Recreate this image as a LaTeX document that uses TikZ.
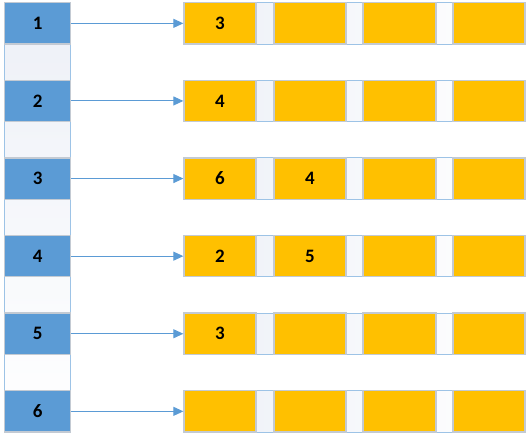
\documentclass[tikz,border=0pt]{standalone}
\usepackage{fontspec}
\setmainfont{Carlito}
\usetikzlibrary{arrows.meta}
\definecolor{cblue}{HTML}{5B9BD5}
\definecolor{cyel}{HTML}{FFC000}
\definecolor{cedge}{HTML}{C3CAD3}
\definecolor{clb}{HTML}{9DC3E6}
\definecolor{cbg}{HTML}{EDF0F7}
\tikzset{
  keybox/.style={draw=cedge, line width=1.3pt, fill=cblue, minimum width=66pt, minimum height=41.3pt, inner sep=0pt, font=\bfseries\fontsize{19}{23}\selectfont, text=black},
  cellbox/.style={draw=cedge, line width=1.3pt, fill=cyel, minimum width=72pt, minimum height=41.3pt, inner sep=0pt, font=\bfseries\fontsize{19}{23}\selectfont, text=black},
  arr/.style={draw=cblue, line width=1pt, -{Triangle[length=10pt,width=9pt]}}
}
\begin{document}
\begin{tikzpicture}[x=1pt,y=-1pt]
\useasboundingbox (0,0) rectangle (532,442);
% column background
\shade[top color=cbg, bottom color=white] (4.7,3) rectangle (70.7,432);
\draw[clb, line width=1pt] (4.7,3) rectangle (70.7,432);
\foreach \i/\t in {1/3,2/4,3/6,4/2,5/3,6/{}} {
  \pgfmathsetmacro{\yc}{2.7+(\i-1)*77.6+20.65}
  \pgfmathsetmacro{\ya}{\yc-20.65}
  \pgfmathsetmacro{\yb}{\yc+20.65}
  \shade[left color=cbg, right color=white] (184,\ya) rectangle (525,\yb);
  \draw[clb, line width=1pt] (184,\ya) -- (525,\ya) (184,\yb) -- (525,\yb);
}
% keys
\node[keybox] (b1) at (37.7,23.35) {1};
\node[keybox] (b2) at (37.7,100.95) {2};
\node[keybox] (b3) at (37.7,178.55) {3};
\node[keybox] (b4) at (37.7,256.15) {4};
\node[keybox] (b5) at (37.7,333.75) {5};
\node[keybox] (b6) at (37.7,411.35) {6};
% cells
\foreach \r/\yc/\ta/\tb in {1/23.35/3/{},2/100.95/4/{},3/178.55/6/4,4/256.15/2/5,5/333.75/3/{},6/411.35/{}/{}} {
  \node[cellbox] (y\r1) at (220,\yc) {\ta};
  \node[cellbox] (y\r2) at (310,\yc) {\tb};
  \node[cellbox, minimum width=73pt] (y\r3) at (399.5,\yc) {};
  \node[cellbox] (y\r4) at (489,\yc) {};
}
\draw[arr] (b1.east) -- (y11.west);
\draw[arr] (b2.east) -- (y21.west);
\draw[arr] (b3.east) -- (y31.west);
\draw[arr] (b4.east) -- (y41.west);
\draw[arr] (b5.east) -- (y51.west);
\draw[arr] (b6.east) -- (y61.west);
\end{tikzpicture}
\end{document}
